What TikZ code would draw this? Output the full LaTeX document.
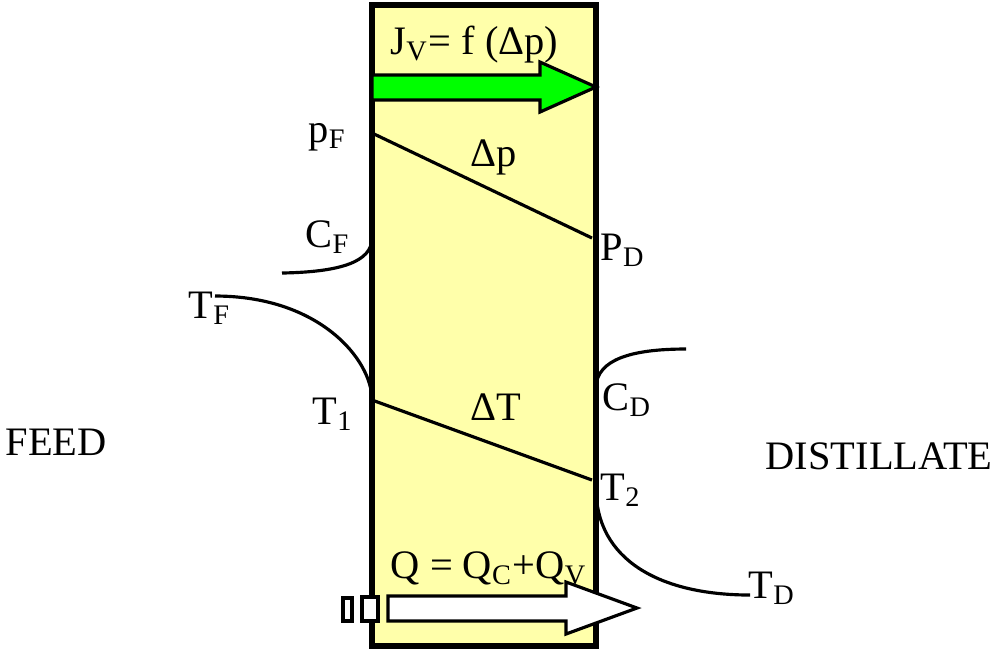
\documentclass[tikz,border=0pt]{standalone}
\usepackage{fontspec}
\setmainfont{Liberation Serif}
\begin{document}
\begin{tikzpicture}[x=0.01cm,y=-0.01cm,
  lbl/.style={anchor=base west,inner sep=0pt,font=\fontsize{11.5}{13}\selectfont},
  ln/.style={line width=0.9pt}]
\useasboundingbox (0,0) rectangle (1000,656);
\definecolor{pale}{RGB}{255,255,170}
\definecolor{grn}{RGB}{0,255,0}
\draw[line width=1.5pt,fill=pale] (372,5) rectangle (596,646);
% green arrow
\draw[line width=0.9pt,fill=grn] (372,75) -- (540,75) -- (540,62) -- (596,87) -- (540,112) -- (540,100) -- (372,100) -- cycle;
% white arrow
\draw[line width=0.9pt,fill=white] (388,596) -- (566,596) -- (566,582) -- (637,608) -- (566,634) -- (566,621) -- (388,621) -- cycle;
\draw[line width=0.9pt,fill=white] (343,598) rectangle (352,621);
\draw[line width=0.9pt,fill=white] (362,597) rectangle (378,621);
% text
\node[lbl] (jv) at (390,54) {J\textsubscript{V}= f (Δp)};
\node[lbl] (pf) at (308,142) {p\textsubscript{F}};
\node[lbl] (dp) at (470,166) {Δp};
\node[lbl] (pd) at (600,260) {P\textsubscript{D}};
\node[lbl] (cf) at (305,247) {C\textsubscript{F}};
\node[lbl] (tf) at (188,318) {T\textsubscript{F}};
\node[lbl] (cd) at (602,410) {C\textsubscript{D}};
\node[lbl] (t1) at (312,424) {T\textsubscript{1}};
\node[lbl] (dt) at (470,420) {ΔT};
\node[lbl] (t2) at (600,500) {T\textsubscript{2}};
\node[lbl] (td) at (748,598) {T\textsubscript{D}};
\node[lbl] (feed) at (5,455) {FEED};
\node[lbl] (dist) at (765,469) {DISTILLATE};
\node[lbl] (q) at (390,578) {Q = Q\textsubscript{C}+Q\textsubscript{V}};
% lines
\coordinate (a1) at (372,133); \coordinate (a2) at (592,238);
\draw[ln] (a1) -- (a2);
\coordinate (b1) at (372,400); \coordinate (b2) at (592,480);
\draw[ln] (b1) -- (b2);
\coordinate (c1) at (282,273); \coordinate (c2) at (372,238);
\draw[ln] (c1) .. controls (340,272) and (372,262) .. (c2);
\coordinate (d1) at (215,296); \coordinate (d2) at (372,400);
\draw[ln] (d1) .. controls (320,296) and (372,360) .. (d2);
\coordinate (e1) at (686,349); \coordinate (e2) at (596,386);
\draw[ln] (e1) .. controls (630,349) and (598,360) .. (e2);
\coordinate (f1) at (596,488); \coordinate (f2) at (750,595);
\draw[ln] (f1) .. controls (596,560) and (660,595) .. (f2);
\end{tikzpicture}
\end{document}
